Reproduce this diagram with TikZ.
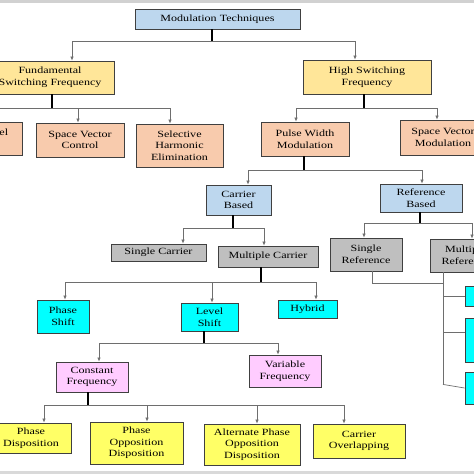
\documentclass[tikz,border=0pt]{standalone}
\usepackage{fontspec}
\setmainfont{Liberation Serif}[FakeStretch=1.27]
\usetikzlibrary{arrows.meta}

\definecolor{techBlue}{HTML}{BDD7EE}
\definecolor{techGold}{HTML}{FFE699}
\definecolor{techSalmon}{HTML}{F8CBAD}
\definecolor{techGray}{HTML}{BFBFBF}
\definecolor{techCyan}{HTML}{00FFFF}
\definecolor{techPink}{HTML}{FFCCFF}
\definecolor{techYellow}{HTML}{FFFF66}
\definecolor{techLine}{HTML}{6E6E6E}

\begin{document}
\begin{tikzpicture}[x=1pt,y=-1pt,font=\fontsize{9.5}{11.7}\selectfont,
  box/.style={draw=black!75,line width=0.8pt,align=center,inner sep=0pt},
  link/.style={techLine,line width=0.7pt,-{Latex[length=4pt,width=3.6pt]}},
  stub/.style={black,line width=1.4pt},
  wire/.style={techLine,line width=0.7pt}]
  \clip (0,0) rectangle (474,474);
  \fill[black!18] (0,0) rectangle (474,3);
  \fill[black!15] (0,471) rectangle (474,474);

  % top levels
  \node[box,fill=techBlue,minimum width=165,minimum height=20] (mt) at (217.5,19) {Modulation Techniques};
  \node[box,fill=techGold,minimum width=128,minimum height=33] (fsf) at (50,77.5) {Fundamental\\Switching Frequency};
  \node[box,fill=techGold,minimum width=128,minimum height=34] (hsf) at (367,77) {High Switching\\Frequency};

  \node[box,fill=techSalmon,minimum width=95,minimum height=33] (nlc) at (-25.5,138.5) {Nearest Level\\Control};
  \node[box,fill=techSalmon,minimum width=88,minimum height=34] (svc) at (80,140) {Space Vector\\Control};
  \node[box,fill=techSalmon,minimum width=87,minimum height=43] (she) at (179.5,145.5) {Selective\\Harmonic\\Elimination};
  \node[box,fill=techSalmon,minimum width=88,minimum height=34] (pwm) at (305,139) {Pulse Width\\Modulation};
  \node[box,fill=techSalmon,minimum width=86,minimum height=35] (svm) at (443,137.5) {Space Vector\\Modulation};

  % pwm branches
  \node[box,fill=techBlue,minimum width=65,minimum height=30] (cb) at (238.5,200) {Carrier\\Based};
  \node[box,fill=techBlue,minimum width=82,minimum height=28] (rb) at (421,198) {Reference\\Based};

  \node[box,fill=techGray,minimum width=95,minimum height=17] (sc) at (158.5,252.5) {Single Carrier};
  \node[box,fill=techGray,minimum width=100,minimum height=21] (mc) at (268,256.5) {Multiple Carrier};
  \node[box,fill=techGray,minimum width=72,minimum height=33] (sr) at (366,254.5) {Single\\Reference};
  \node[box,fill=techGray,minimum width=72,minimum height=33] (mr) at (466,255.5) {Multiple\\Reference};

  \node[box,fill=techCyan,minimum width=52,minimum height=33] (ps) at (63,316.5) {Phase\\Shift};
  \node[box,fill=techCyan,minimum width=57,minimum height=28] (ls) at (209.5,317) {Level\\Shift};
  \node[box,fill=techCyan,minimum width=59,minimum height=18] (hy) at (307.5,309) {Hybrid};

  \node[box,fill=techCyan,minimum width=35,minimum height=20] (ra) at (482.5,296) {};
  \node[box,fill=techCyan,minimum width=35,minimum height=44] (rbx) at (482.5,340) {};
  \node[box,fill=techCyan,minimum width=35,minimum height=32] (rc) at (482.5,388) {};

  \node[box,fill=techPink,minimum width=72,minimum height=30] (cf) at (92,377) {Constant\\Frequency};
  \node[box,fill=techPink,minimum width=72,minimum height=32] (vf) at (285,371) {Variable\\Frequency};

  \node[box,fill=techYellow,minimum width=80,minimum height=30] (pd) at (31,438) {Phase\\Disposition};
  \node[box,fill=techYellow,minimum width=93,minimum height=42] (pod) at (136.5,443) {Phase\\Opposition\\Disposition};
  \node[box,fill=techYellow,minimum width=96,minimum height=41] (apod) at (252,444.5) {Alternate Phase\\Opposition\\Disposition};
  \node[box,fill=techYellow,minimum width=92,minimum height=34] (co) at (359,441) {Carrier\\Overlapping};

  % connectors
  \draw[stub] ([xshift=-5.5pt]mt.south) -- ++(0,12) coordinate (mtbus);
  \draw[link] (mtbus) -| ([xshift=22pt]fsf.north);
  \draw[link] (mtbus) -| ([xshift=-12pt]hsf.north);

  \draw[stub] ([xshift=2pt]fsf.south) -- ++(0,14) coordinate (fsfbus);
  \draw[link] (fsfbus) -| (nlc.north);
  \draw[link] (fsfbus) -| ([xshift=-2pt]svc.north);
  \draw[link] (fsfbus) -| ([xshift=-9.5pt]she.north);

  \draw[stub] ([xshift=-3pt]hsf.south) -- ++(0,14) coordinate (hsfbus);
  \draw[link] (hsfbus) -| ([xshift=-9pt]pwm.north);
  \draw[link] (hsfbus) -| ([xshift=-6pt]svm.north);

  \draw[stub] ([xshift=-1pt]pwm.south) -- ++(0,14) coordinate (pwmbus);
  \draw[link] (pwmbus) -| ([xshift=9.5pt]cb.north);
  \draw[link] (pwmbus) -| ([xshift=1pt]rb.north);

  \draw[stub] ([xshift=-5.5pt]cb.south) -- ++(0,13) coordinate (cbbus);
  \draw[link] (cbbus) -| ([xshift=24.5pt]sc.north);
  \draw[link] (cbbus) -| ([xshift=-4pt]mc.north);

  \draw[stub] ([xshift=-1pt]rb.south) -- ++(0,11) coordinate (rbbus);
  \draw[link] (rbbus) -| ([xshift=-2pt]sr.north);
  \draw[link] (rbbus) -| ([xshift=6pt]mr.north);

  \draw[stub] ([xshift=-7pt]mc.south) -- ++(0,15) coordinate (mcbus);
  \draw[link] (mcbus) -| ([xshift=2pt]ps.north);
  \draw[link] (mcbus) -| ([xshift=2.5pt]ls.north);
  \draw[link] (mcbus) -| ([xshift=8.5pt]hy.north);

  \draw[stub] ([xshift=-5.5pt]ls.south) -- ++(0,12) coordinate (lsbus);
  \draw[link] (lsbus) -| ([xshift=7pt]cf.north);
  \draw[link] (lsbus) -| ([xshift=-7pt]vf.north);

  \draw[stub] ([xshift=-4pt]cf.south) -- ++(0,13) coordinate (cfbus);
  \draw[link] (cfbus) -| ([xshift=13pt]pd.north);
  \draw[link] (cfbus) -| ([xshift=10.5pt]pod.north);
  \draw[link] (cfbus) -| ([xshift=5pt]apod.north);
  \draw[link] (cfbus) -| ([xshift=-15pt]co.north);

  % reference side
  \draw[wire] ([xshift=-23pt]mr.south) -- ++(0,112) coordinate (mrend);
  \draw[wire] ([xshift=6pt]sr.south) -- ++(0,12) coordinate (srbend);
  \draw[wire] (srbend) -- (srbend -| mrend);
  \draw[wire] (ra.west -| mrend) -- (ra.west);
  \draw[wire] ([yshift=8pt]rbx.west -| mrend) -- ([yshift=8pt]rbx.west);
  \draw[wire] (mrend) -- (rc.west);
\end{tikzpicture}
\end{document}
